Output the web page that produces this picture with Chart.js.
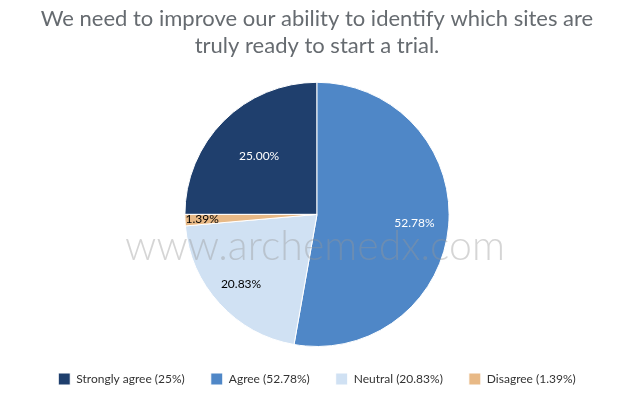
<!DOCTYPE html>
<html><head><meta charset="utf-8">
<script src="https://cdn.jsdelivr.net/npm/chart.js@4"></script>
<style>html,body{margin:0;padding:0;background:#fff}#w{width:629px;height:405px}</style>
</head><body><div id="w"><canvas id="c"></canvas></div>
<script>
const categories = ["Strongly agree (25%)", "Agree (52.78%)", "Neutral (20.83%)", "Disagree (1.39%)"];
const values = [25.00, 52.78, 20.83, 1.39];
const valueLabels = ["25.00%", "52.78%", "20.83%", "1.39%"];
const colors = ["#1f3f6d", "#4f87c7", "#d0e1f3", "#e8b986"];
const labelColors = ["#ffffff", "#ffffff", "#000000", "#000000"];
const labelRadius = [0.62, 0.74, 0.78, 0.87];

const overlay = {
  id: 'overlay',
  afterDatasetsDraw(chart) {
    const ctx = chart.ctx;
    const meta = chart.getDatasetMeta(0);
    ctx.save();
    ctx.font = '12px Lato';
    ctx.textAlign = 'center'; ctx.textBaseline = 'middle';
    meta.data.forEach((arc, i) => {
      const a = (arc.startAngle + arc.endAngle) / 2;
      const r = arc.outerRadius * labelRadius[i];
      ctx.fillStyle = labelColors[i];
      ctx.fillText(valueLabels[i], arc.x + Math.cos(a) * r, arc.y + Math.sin(a) * r);
    });
    ctx.font = '300 41px Lato';
    ctx.fillStyle = 'rgba(150,150,150,0.4)';
    ctx.fillText('www.archemedx.com', 315, 247);
    ctx.restore();
  }
};

new Chart(document.getElementById('c'), {
  type: 'pie',
  data: { labels: categories, datasets: [{ data: values, backgroundColor: colors, borderColor: '#ffffff', borderWidth: 1 }] },
  options: {
    responsive: true, maintainAspectRatio: false, animation: false,
    rotation: -90,
    layout: { padding: { top: 4, bottom: 10, left: 5 } },
    plugins: {
      title: { display: true, text: ['We need to improve our ability to identify which sites are', 'truly ready to start a trial.'],
        color: '#666b70', font: { family: 'Lato', size: 22, weight: 'normal', lineHeight: 1.2 }, padding: { top: 2, bottom: 23 } },
      legend: { position: 'bottom', labels: { color: '#333', font: { family: 'Lato', size: 12 }, boxWidth: 12, boxHeight: 12, padding: 26 } },
      tooltip: { enabled: false }
    }
  },
  plugins: [overlay]
});
</script></body></html>
